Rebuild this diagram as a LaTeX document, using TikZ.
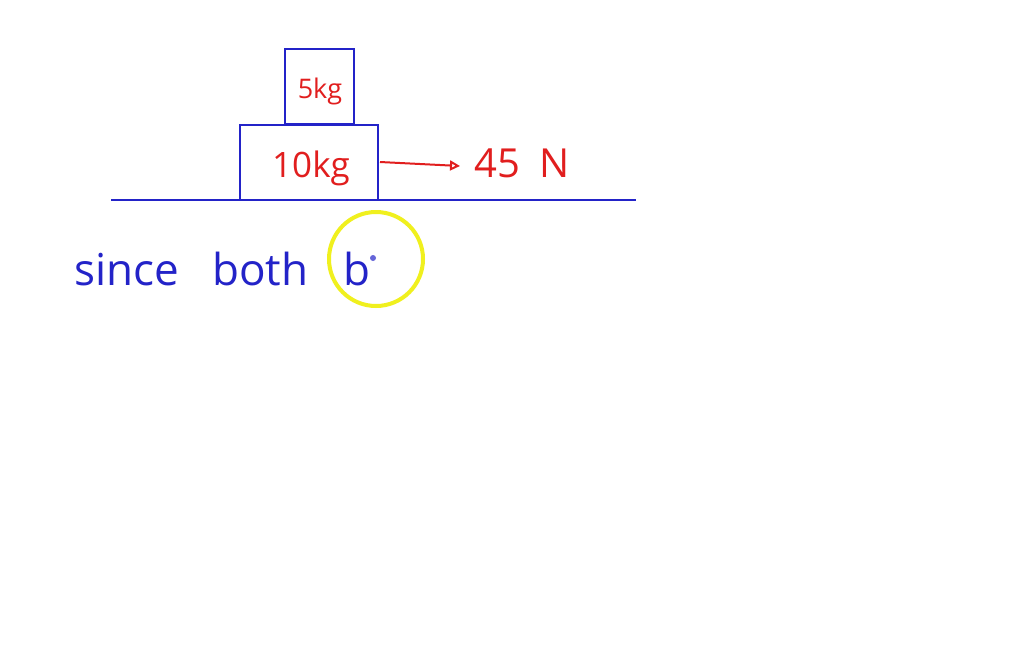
\documentclass[tikz,border=0pt]{standalone}
\usepackage{fontspec}
\setmainfont{Open Sans}
\usetikzlibrary{arrows.meta}
\definecolor{inkblue}{RGB}{35,35,200}
\definecolor{inkred}{RGB}{225,30,30}
\definecolor{hiyellow}{RGB}{240,240,30}
\tikzset{
  boxline/.style={draw=inkblue, line width=2.2pt},
  redtxt/.style={text=inkred, inner sep=0pt, anchor=base},
  bluetxt/.style={text=inkblue, inner sep=0pt, anchor=base west},
}
\begin{document}
\begin{tikzpicture}[x=1pt,y=-1pt]
\useasboundingbox (0,0) rectangle (1024,654);
\fill[white] (0,0) rectangle (1024,654);
% ground
\coordinate (gL) at (111,200);
\coordinate (gR) at (636,200);
\draw[boxline] (gL) -- (gR);
% blocks
\node[boxline, minimum width=138pt, minimum height=75pt, inner sep=0pt] (big) at (309,162.5) {};
\node[boxline, minimum width=69pt, minimum height=75pt, inner sep=0pt, anchor=south] (small) at (319.5,125) {};
\node[redtxt, font=\fontsize{27}{27}\selectfont] (m5) at (320,98) {5kg};
\node[redtxt, font=\fontsize{35}{35}\selectfont] (m10) at (311,177) {10kg};
% force
\coordinate (fs) at (380,162);
\coordinate (fe) at (460,166);
\draw[draw=inkred, line width=2pt, -{Triangle[open, length=10pt, width=10pt]}] (fs) -- (fe);
\node[redtxt, anchor=base west, font=\fontsize{40}{40}\selectfont] (F) at (474,177) {45\hspace{20pt}N};
% text
\node[bluetxt, font=\fontsize{44}{44}\selectfont] (w1) at (74,285) {since};
\node[bluetxt, font=\fontsize{44}{44}\selectfont] (w2) at (212,285) {both};
\node[bluetxt, font=\fontsize{44}{44}\selectfont] (w3) at (343,285) {b};
\fill[inkblue!70] (373,258) circle (3);
% highlight
\node[draw=hiyellow, line width=4pt, circle, minimum size=94pt, inner sep=0pt] (hl) at (376,259) {};
\end{tikzpicture}
\end{document}
